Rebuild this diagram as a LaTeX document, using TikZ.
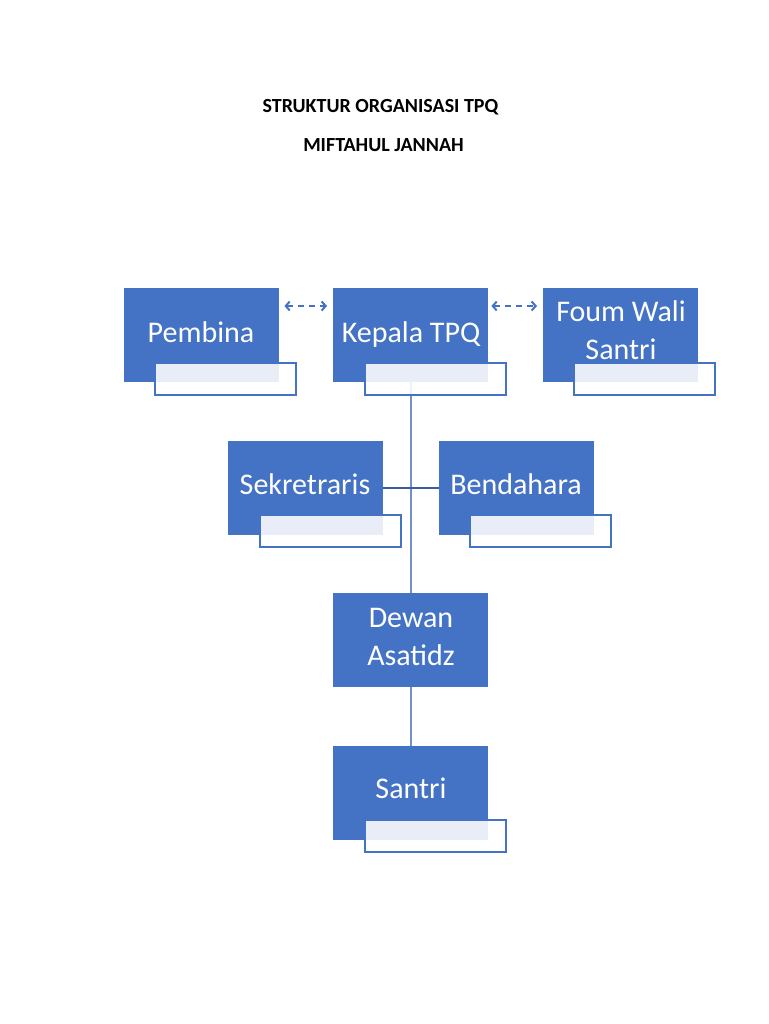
\documentclass[tikz,border=0pt]{standalone}
\usepackage{fontspec}
\setmainfont{Carlito}
\usetikzlibrary{arrows.meta}
\definecolor{obl}{HTML}{4472C4}
\definecolor{linev}{HTML}{7490C8}
\definecolor{lineh}{HTML}{3A5C9E}
\tikzset{
  bluebox/.style={draw=none, fill=obl, minimum width=155pt, minimum height=94pt, inner sep=0pt, anchor=north west},
  secbox/.style={draw=obl, line width=1.5pt, fill=white, fill opacity=0.88, minimum width=141pt, minimum height=32pt, inner sep=0pt, anchor=north west},
  lbl/.style={text=white, font=\fontsize{30}{38}\selectfont, anchor=base, inner sep=0pt},
  ttl/.style={font=\bfseries\fontsize{20}{24}\selectfont, anchor=base, inner sep=0pt},
  dasharrow/.style={draw=obl, line width=2pt, dash pattern=on 6pt off 5pt, {Straight Barb[length=4pt,width=9pt]}-{Straight Barb[length=4pt,width=9pt]}},
  vline/.style={draw=linev, line width=1.6pt},
  hline/.style={draw=lineh, line width=2.2pt}
}
\begin{document}
\begin{tikzpicture}[x=1pt,y=-1pt]
\fill[white] (0,0) rectangle (768,1024);
\useasboundingbox (0,0) rectangle (768,1024);

% title
\node[ttl] (t1) at (380.5,113) {STRUKTUR ORGANISASI TPQ};
\node[ttl] (t2) at (383.5,152) {MIFTAHUL JANNAH};

% coordinates for connectors
\coordinate (kbot) at (411,382);
\coordinate (dtop) at (411,593);

% vertical trunk (drawn first, under boxes)
\draw[vline] (kbot) -- (dtop);

% boxes row 1
\node[bluebox] (pem) at (124,288) {};
\node[bluebox] (kep) at (333,288) {};
\node[bluebox] (foum) at (543,288) {};
% row 2
\node[bluebox] (sek) at (228,441) {};
\node[bluebox] (ben) at (439,441) {};
% row 3
\node[bluebox] (dew) at (333,593) {};
% row 4
\node[bluebox] (san) at (333,746) {};

% horizontal connector
\draw[hline] (sek.east |- 0,488) -- (ben.west |- 0,488);
% Dewan to Santri
\draw[vline] (dew.south -| kbot) -- (san.north -| kbot);

% secondary boxes
\node[secbox] (pemS) at (154,362) {};
\node[secbox] (kepS) at (364,362) {};
\node[secbox] (foumS) at (573,362) {};
\node[secbox] (sekS) at (259,514) {};
\node[secbox] (benS) at (469,514) {};
\node[secbox] (sanS) at (364,819) {};

% labels
\node[lbl] (pemL) at (201,342) {Pembina};
\node[lbl] (kepL) at (411,342) {Kepala TPQ};
\node[lbl] (foumL1) at (621,321) {Foum Wali};
\node[lbl] (foumL2) at (621,359) {Santri};
\node[lbl] (sekL) at (305,494) {Sekretraris};
\node[lbl] (benL) at (516,494) {Bendahara};
\node[lbl] (dewL1) at (411,627) {Dewan};
\node[lbl] (dewL2) at (411,665) {Asatidz};
\node[lbl] (sanL) at (411,798) {Santri};

% dashed arrows
\draw[dasharrow] ([xshift=5pt]pem.east |- 0,306) -- ([xshift=-6pt]kep.west |- 0,306);
\draw[dasharrow] ([xshift=3pt]kep.east |- 0,306) -- ([xshift=-6pt]foum.west |- 0,306);
\end{tikzpicture}
\end{document}
